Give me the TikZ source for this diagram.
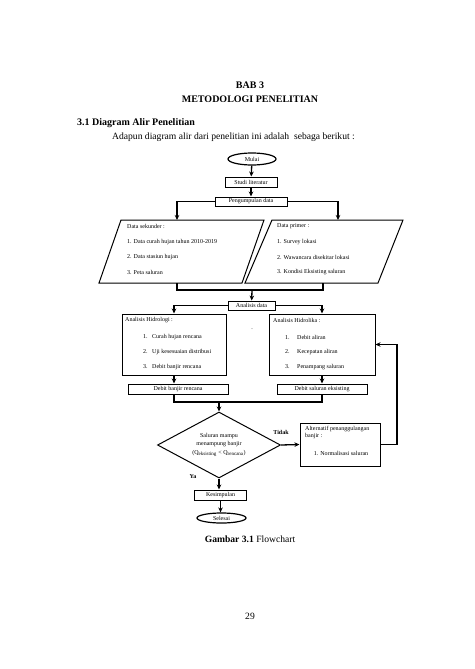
\documentclass[tikz,border=0pt]{standalone}
\usepackage{fontspec}
\setmainfont{Liberation Serif}
\usetikzlibrary{shapes.geometric,arrows.meta,positioning,calc}
\newcommand{\kecil}{\fontsize{6}{8.5}\selectfont}
\newcommand{\isi}{\fontsize{9.6}{11}\selectfont}
\newcommand{\judul}{\fontsize{10}{12}\selectfont\bfseries}
\newcommand{\butir}[3]{\makebox[#1][l]{#2}#3}

\begin{document}
\begin{tikzpicture}[x=1pt,y=-1pt,
  proses/.style={rectangle, draw, line width=1pt, inner sep=0pt, font=\kecil, text centered},
  terminal/.style={ellipse, draw, line width=1.2pt, inner sep=0pt, font=\kecil},
  keputusan/.style={diamond, draw, line width=1pt, aspect=2, inner sep=0pt, font=\kecil, align=center},
  teks/.style={inner sep=0pt, font=\kecil, anchor=west},
  label/.style={inner sep=0pt, font=\kecil\bfseries},
  arr/.style={-{Stealth[length=5pt,width=4.5pt]}, line width=1.3pt},
  garis/.style={line width=1.3pt},
  sisi/.style={line width=1pt}
]
  \useasboundingbox (0,0) rectangle (474,669);

  \node[font=\judul, inner sep=0pt] (bab) at (250,85) {BAB 3};
  \node[font=\judul, inner sep=0pt] (judul) at (250,99) {METODOLOGI PENELITIAN};
  \node[font=\judul, inner sep=0pt, anchor=west] (subbab) at (77,123) {3.1 Diagram Alir Penelitian};
  \node[font=\isi, inner sep=0pt, anchor=west] (pengantar) at (112,137)
    {Adapun diagram alir dari penelitian ini adalah\ \ sebaga berikut :};

  \node[terminal, minimum width=48pt, minimum height=12pt] (mulai) at (252,159) {Mulai};
  \node[proses, minimum width=52pt, minimum height=10pt] (studi) at (251,182) {Studi literatur};
  \node[proses, minimum width=72pt, minimum height=9pt] (kumpul) at (251,201.5) {Pengumpulan data};

  \draw[sisi] (121,220) -- (264,220) -- (242,283) -- (99,283) -- cycle;
  \coordinate (sekunder-n) at (177,220);
  \coordinate (sekunder-s) at (177,283);
  \node[teks] (sekunder) at (127,226) {Data sekunder :};
  \node[teks] (sekunder-1) at (127,242) {1. Data curah hujan tahun 2010-2019};
  \node[teks] (sekunder-2) at (127,257.5) {2. Data stasiun hujan};
  \node[teks] (sekunder-3) at (127,272) {3. Peta saluran};

  \draw[sisi] (272,220) -- (403,220) -- (378,283) -- (245,283) -- cycle;
  \coordinate (primer-n) at (338,220);
  \coordinate (primer-s) at (323,283);
  \node[teks] (primer) at (277,226) {Data primer :};
  \node[teks] (primer-1) at (277,242) {1. Survey lokasi};
  \node[teks] (primer-2) at (277,257.5) {2. Wawancara disekitar lokasi};
  \node[teks] (primer-3) at (277,272) {3. Kondisi Eksisting saluran};

  \coordinate (gabung-data) at (252,290);
  \node[proses, minimum width=47pt, minimum height=9pt] (analisis) at (251.5,305.5) {Analisis data};

  \node[proses, minimum width=104pt, minimum height=61pt] (hidrologi) at (174,344.5) {};
  \node[teks] (hidrologi-judul) at (125,320) {Analisis Hidrologi :};
  \node[teks] (hidrologi-1) at (143,337) {\butir{9pt}{1.}{Curah hujan rencana}};
  \node[teks] (hidrologi-2) at (143,352) {\butir{9pt}{2.}{Uji kesesuaian distribusi}};
  \node[teks] (hidrologi-3) at (143,367) {\butir{9pt}{3.}{Debit banjir rencana}};

  \node[inner sep=0pt, font=\kecil] (titik) at (252,329) {.};

  \node[proses, minimum width=106pt, minimum height=61pt] (hidrolika) at (322,344.5) {};
  \node[teks] (hidrolika-judul) at (273,320) {Analisis Hidrolika :};
  \node[teks] (hidrolika-1) at (285,337) {\butir{12pt}{1.}{Debit aliran}};
  \node[teks] (hidrolika-2) at (285,352) {\butir{12pt}{2.}{Kecepatan aliran}};
  \node[teks] (hidrolika-3) at (285,367) {\butir{12pt}{3.}{Penampang saluran}};

  \node[proses, minimum width=100pt, minimum height=10pt] (debitbanjir) at (178,389) {Debit banjir rencana};
  \node[proses, minimum width=90pt, minimum height=10pt] (debitsaluran) at (322,389) {Debit saluran eksisting};
  \coordinate (gabung-debit) at (219,402);

  \node[keputusan, minimum width=123pt, minimum height=66pt] (cek) at (219,445)
    {Saluran mampu\\menampung banjir\\(Q\textsubscript{eksisting} < Q\textsubscript{rencana})};
  \node[label] (tidak) at (281,432) {Tidak};
  \node[label] (ya) at (193,477) {Ya};

  \node[proses, minimum width=80pt, minimum height=43pt] (alternatif) at (340,444.5) {};
  \node[teks] (alternatif-judul) at (305,429) {Alternatif penanggulangan};
  \node[teks] (alternatif-2) at (305,436.5) {banjir :};
  \node[inner sep=0pt, font=\kecil] (alternatif-1) at (341,453) {1. Normalisasi saluran};
  \coordinate (balik) at (397,444.5);

  \node[proses, minimum width=52pt, minimum height=10pt] (kesimpulan) at (220.5,495) {Kesimpulan};
  \node[terminal, minimum width=49pt, minimum height=10pt] (selesai) at (221.5,518) {Selesai};

  \node[font=\isi, inner sep=0pt] (keterangan) at (250,539) {\textbf{Gambar 3.1} Flowchart};
  \node[font=\isi, inner sep=0pt] (halaman) at (250,616) {29};

  \draw[arr] (mulai) -- (studi);
  \draw[arr] (studi) -- (kumpul);
  \draw[arr] (kumpul.west) -| (sekunder-n);
  \draw[arr] (kumpul.east) -| (primer-n);
  \draw[garis] (sekunder-s) |- (gabung-data) -| (primer-s);
  \draw[arr] (gabung-data) -- (analisis);
  \draw[arr] (analisis.west) -| (hidrologi.north);
  \draw[arr] (analisis.east) -| (hidrolika.north);
  \draw[arr] (hidrologi.south) -- (hidrologi.south |- debitbanjir.north);
  \draw[arr] (hidrolika.south) -- (hidrolika.south |- debitsaluran.north);
  \draw[garis] (hidrologi.south |- debitbanjir.south) |- (gabung-debit) -| (debitsaluran.south);
  \draw[arr] (gabung-debit) -- (cek);
  \draw[arr] (cek.east) -- (alternatif.west);
  \draw[arr] (alternatif.east) -- (balik) |- (hidrolika.east);
  \draw[arr] (cek.south) -- (cek.south |- kesimpulan.north);
  \draw[arr] (kesimpulan.south) -- (kesimpulan.south |- selesai.north);
\end{tikzpicture}
\end{document}
